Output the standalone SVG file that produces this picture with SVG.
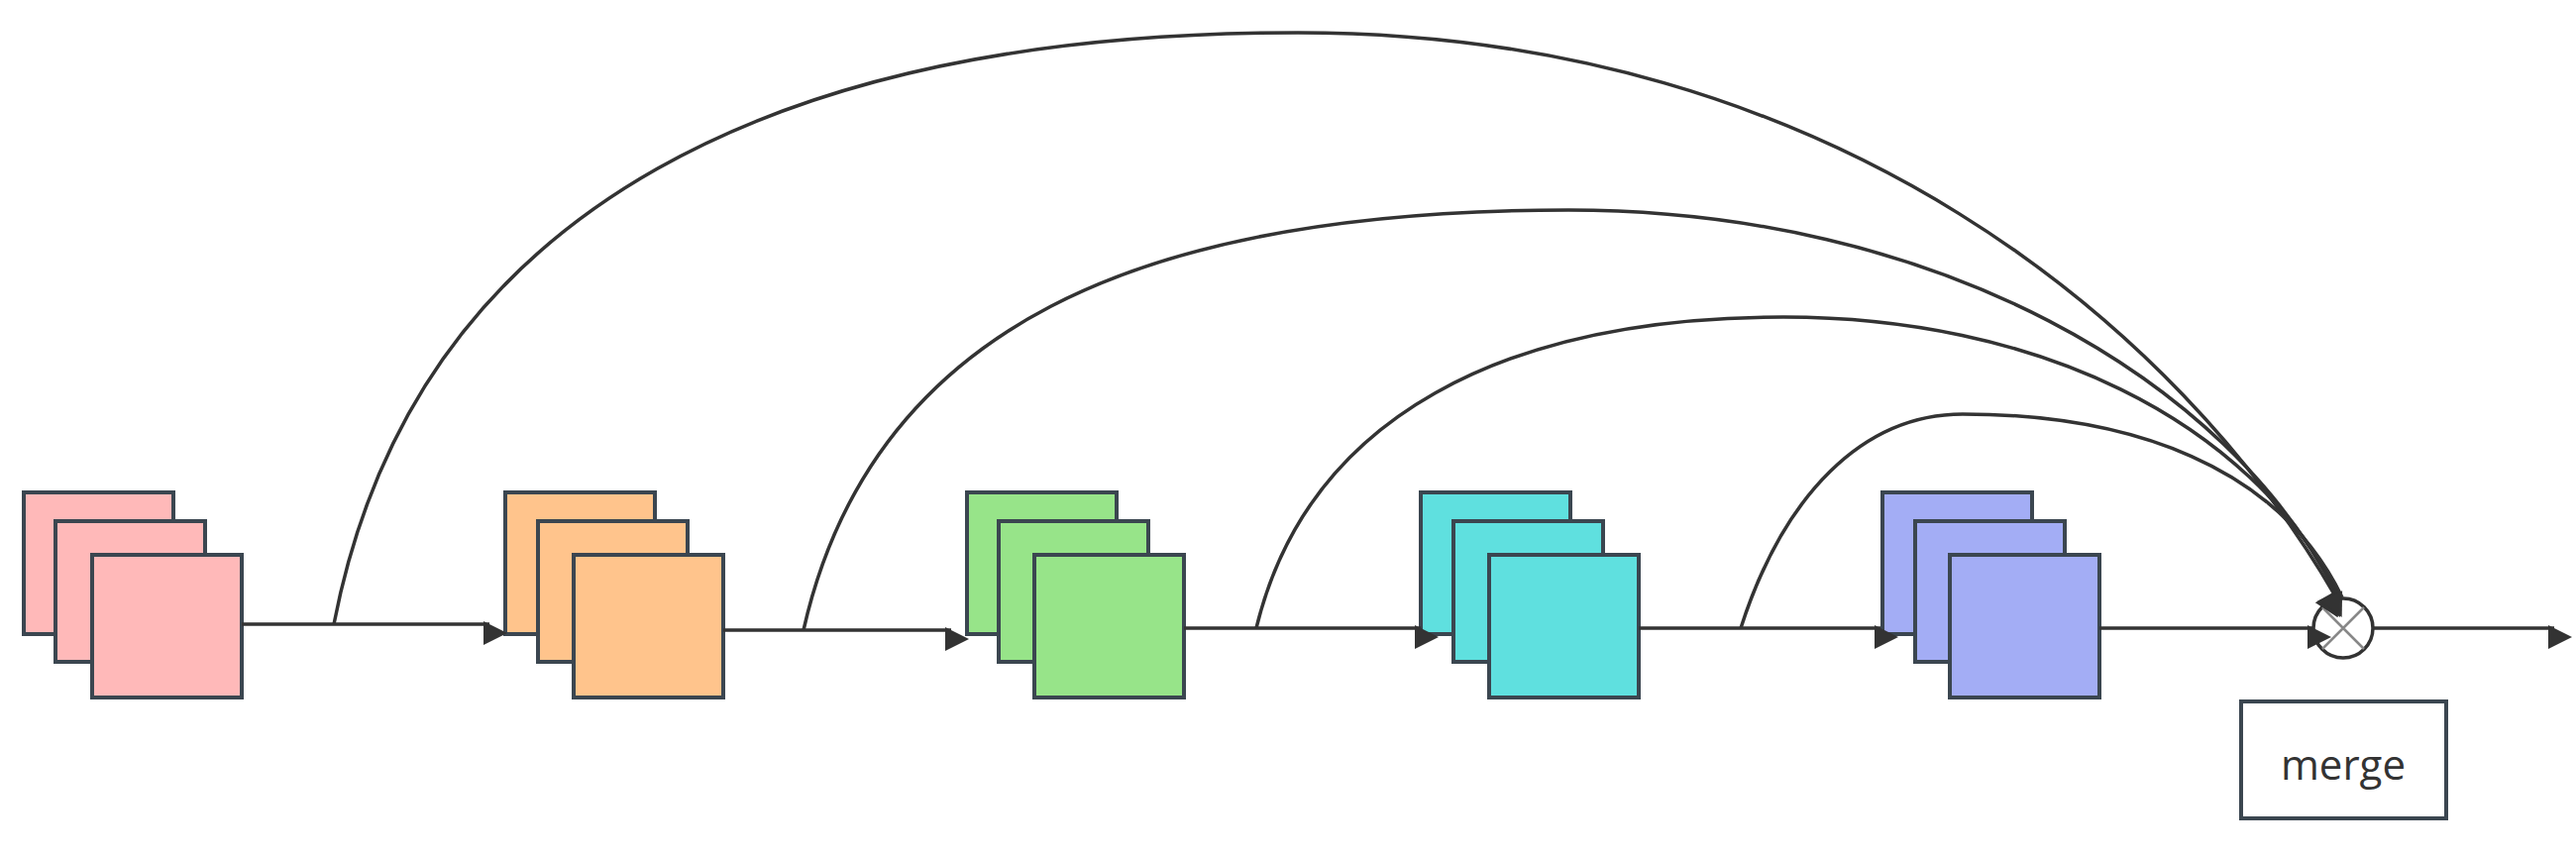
<svg xmlns="http://www.w3.org/2000/svg" width="2600" height="866" viewBox="0 0 2600 866">
<style>
.r{stroke:#3b4650;stroke-width:4}
.c{fill:none;stroke:#333;stroke-width:3.5}
.p{fill:#ffb9b9}.o{fill:#ffc48c}.g{fill:#97e489}.t{fill:#5fe0df}.b{fill:#a3adf5}
</style>
<defs>
<marker id="a" viewBox="0 0 10 10" refX="10" refY="5" markerWidth="6" markerHeight="6" markerUnits="userSpaceOnUse" orient="auto" style="overflow:visible"><path d="M0,0L10,5L0,10z" fill="#333" transform="scale(4)"/></marker>
</defs>
<rect width="2600" height="866" fill="#fff"/>
<g id="n1" class="p"><rect class="r" x="24" y="497" width="151" height="143"/><rect class="r" x="56" y="526" width="151" height="142"/><rect class="r" x="93" y="560" width="151" height="144"/></g>
<g id="n2" class="o"><rect class="r" x="510" y="497" width="151" height="143"/><rect class="r" x="543" y="526" width="151" height="142"/><rect class="r" x="579" y="560" width="151" height="144"/></g>
<g id="n3" class="g"><rect class="r" x="976" y="497" width="151" height="143"/><rect class="r" x="1008" y="526" width="151" height="142"/><rect class="r" x="1044" y="560" width="151" height="144"/></g>
<g id="n4" class="t"><rect class="r" x="1434" y="497" width="151" height="143"/><rect class="r" x="1467" y="526" width="151" height="142"/><rect class="r" x="1503" y="560" width="151" height="144"/></g>
<g id="n5" class="b"><rect class="r" x="1900" y="497" width="151" height="143"/><rect class="r" x="1933" y="526" width="151" height="142"/><rect class="r" x="1968" y="560" width="151" height="144"/></g>
<g id="merge-op"><circle cx="2365" cy="634" r="30" fill="#fff" stroke="#333" stroke-width="3.5"/><path d="M2344,613L2386,655M2386,613L2344,655" stroke="#888" stroke-width="2.5"/></g>
<g id="merge"><rect x="2262" y="708" width="207" height="118" fill="#fff" stroke="#3b4650" stroke-width="4"/><text x="2365" y="787" text-anchor="middle" font-family="Open Sans, Liberation Sans, sans-serif" font-size="42" fill="#333">merge</text></g>
<g id="connectors" class="c" marker-end="url(#a)">
<path d="M244,630H494"/>
<path d="M730,636H960"/>
<path d="M1195,634H1434"/>
<path d="M1654,634H1898"/>
<path d="M2119,634H2335"/>
<path d="M2395,634H2578"/>
<path d="M337,630C420,200 800,33 1310,33C1850,33 2200,330 2358,603"/>
<path d="M811,636C880,330 1150,212 1583,212C1950,212 2250,380 2360,603"/>
<path d="M1268,634C1320,420 1520,320 1800,320C2050,320 2270,420 2362,603"/>
<path d="M1757,634C1800,500 1880,418 1981,418C2150,418 2300,470 2364,603"/>
</g>
</svg>
